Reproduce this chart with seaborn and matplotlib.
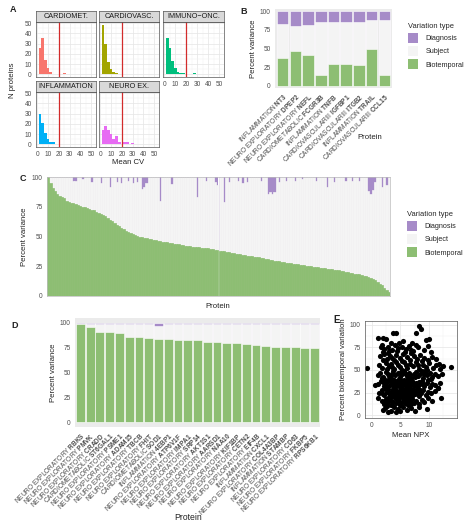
import numpy as np
import pandas as pd
import matplotlib
matplotlib.use("Agg")
import matplotlib.pyplot as plt
import seaborn as sns
from matplotlib.patches import Patch
from matplotlib.ticker import MultipleLocator

sns.set_theme(style="white")
plt.rcParams['font.family'] = ['Liberation Sans', 'DejaVu Sans']
plt.rcParams['mathtext.fontset'] = 'custom'
plt.rcParams['mathtext.rm'] = 'Liberation Sans'
plt.rcParams['mathtext.bf'] = 'Liberation Sans:bold'

# ---------------- DATA ----------------
# Panel A: histogram counts of mean CV per panel (bin centers, width 2.5)
cv_centers = [2.5, 5, 7.5, 10, 12.5, 15, 17.5, 20, 22.5, 25, 27.5, 30]
cv_panels = ["CARDIOMET.", "CARDIOVASC.", "IMMUNO\u2212ONC.", "INFLAMMATION", "NEURO EX."]
cv_cardiomet = [26, 35, 14, 6, 2, 0, 0, 0, 0, 1, 0, 0]
cv_cardiovasc = [48, 30, 12, 5, 2, 1, 0, 0, 0, 0, 0, 0]
cv_immuno = [35, 26, 13, 6, 2, 1, 1, 0, 0, 0, 1, 0]
cv_inflam = [30, 21, 11, 5, 2, 2, 0, 0, 0, 0, 0, 0]
cv_neuro = [14, 18, 14, 10, 5, 8, 2, 0, 2, 2, 0, 1]
cv_colors = ["#F8766D", "#A3A500", "#00BF7D", "#00B0F6", "#E76BF3"]

# Panel B
b_panel = ["INFLAMMATION", "NEURO EXPLORATORY", "NEURO EXPLORATORY", "CARDIOMETABOLIC",
           "INFLAMMATION", "CARDIOVASCULARIII", "CARDIOVASCULARIII", "INFLAMMATION",
           "CARDIOVASCULARIII"]
b_gene = ["NT3", "DPEP2", "NEFL", "FCGR3B", "TNFB", "IGFBP1", "ITGB2", "TRAIL", "CCL15"]
b_bio = [37, 46, 41, 14, 29, 29, 28, 50, 14]
b_diag = [17, 20, 18, 14, 14, 14, 14, 12, 12]

# Panel C (proteins sorted by biotemporal %)
c_bio = [100, 95, 91, 88, 86, 84, 83, 82, 80, 79,
         78.5, 78, 77, 76.5, 76, 75, 74.5, 74, 73, 72.5,
         72, 71, 70, 69, 68, 67, 65.5, 64, 63, 61.5,
         60, 59, 57.5, 56.5, 55, 54, 53, 52, 51, 50.5,
         50, 49.5, 49, 48.5, 48, 47.5, 47.2, 46.8, 46.5, 46,
         45.7, 45.3, 45, 44.6, 44.3, 44, 43.7, 43.4, 43, 42.7,
         42.4, 42, 41.8, 41.5, 41.2, 41, 40.8, 40.5, 40.3, 40.1,
         40, 39.7, 39.3, 39, 38.6, 38.2, 37.8, 37.4, 37, 36.6,
         36.2, 35.9, 35.5, 35.2, 34.9, 34.6, 34.3, 34, 33.7, 33.4,
         33.1, 32.8, 32.4, 32, 31.6, 31.2, 30.8, 30.4, 30, 29.6,
         29.3, 29, 28.7, 28.4, 28.1, 27.8, 27.5, 27.2, 27, 26.7,
         26.4, 26.1, 25.8, 25.5, 25.2, 25, 24.7, 24.4, 24.1, 23.8,
         23.5, 23.2, 23, 22.7, 22.4, 22.1, 21.8, 21.5, 21.2, 20.9,
         20.5, 20.1, 19.7, 19.3, 18.9, 18.5, 18.1, 17.6, 17.1, 16.6,
         16, 15.3, 14.5, 13.5, 12, 10.5, 9, 7, 5, 3]
c_diag_pos = [11, 12, 15, 19, 23, 27, 30, 32, 35, 37, 39, 41, 42, 43, 49, 54, 65, 69, 73, 74,
              77, 79, 83, 85, 87, 93, 96, 97, 98, 99, 101, 104, 108, 111, 117, 122, 125, 130,
              133, 136, 140, 141, 142, 143, 146, 148]
c_diag_val = [3, 3, 2, 4, 5, 8, 4, 5, 3, 5, 4, 10, 8, 5, 20, 6, 17, 3, 4, 7,
              21, 4, 3, 5, 4, 3, 14, 13, 14, 13, 4, 3, 3, 2, 3, 8, 4, 3,
              3, 3, 12, 14, 11, 4, 8, 7]

# Panel D
d_panel = ["NEURO EXPLORATORY", "NEURO EXPLORATORY", "NEURO EXPLORATORY", "CARDIOMETABOLIC",
           "NEURO EXPLORATORY", "NEURO EXPLORATORY", "NEURO EXPLORATORY", "NEURO EXPLORATORY",
           "CARDIOMETABOLIC", "INFLAMMATION", "NEURO EXPLORATORY", "NEURO EXPLORATORY",
           "NEURO EXPLORATORY", "NEURO EXPLORATORY", "NEURO EXPLORATORY", "NEURO EXPLORATORY",
           "NEURO EXPLORATORY", "NEURO EXPLORATORY", "NEURO EXPLORATORY", "INFLAMMATION",
           "NEURO EXPLORATORY", "INFLAMMATION", "NEURO EXPLORATORY", "NEURO EXPLORATORY",
           "NEURO EXPLORATORY"]
d_gene = ["RBKS", "PMVK", "CRADD", "ST6GAL1", "PSME1", "ADAM15", "TBCB", "FHIT", "SOD1",
          "4EBP1", "ATP6V1F", "IMPA1", "SRP14", "AKT1S1", "AARSD1", "NAA10", "KIF1BP",
          "CETN2", "EIF4B", "CXCL1", "COL4A3BP", "STAMBP", "CD63", "FKBP5", "RPS6KB1"]
d_bio = [99, 96, 91, 91, 90, 86, 86, 85, 84, 84, 83, 83, 83, 81, 81, 80, 80, 79, 78, 77,
         76, 76, 76, 75, 75]
d_diag = [1, 1, 1, 1, 1, 1, 1, 1, 3, 1, 1, 1, 1, 1, 1, 1, 1, 1, 1, 1, 1, 1, 1, 1, 1]

# Panel E: (mean NPX, percent biotemporal variation)
e_points = [
    (8.2, 99), (8.6, 96), (3.7, 91), (4.3, 91), (7.8, 91), (10.0, 84), (9.5, 83), (1.0, 85),
    (1.9, 85), (2.5, 84), (5.5, 82), (7.0, 80), (9.8, 77), (4.8, 80), (3.3, 80),
    (1.6, 75), (2.2, 73), (2.8, 76), (3.5, 72), (4.1, 78), (4.6, 74), (5.3, 76), (6.0, 73),
    (6.5, 77), (7.2, 71), (8.0, 75), (9.1, 72), (10.3, 70), (2.0, 70), (3.0, 71), (5.8, 70),
    (6.8, 72), (1.7, 78), (4.4, 71), (7.7, 78),
    (1.5, 65), (2.1, 68), (2.6, 62), (3.2, 66), (3.8, 61), (4.3, 67), (4.9, 63), (5.5, 68),
    (6.1, 64), (6.6, 61), (7.3, 66), (7.9, 62), (8.5, 67), (9.2, 63), (9.9, 61), (10.6, 64),
    (2.9, 69), (5.2, 60), (6.9, 69), (8.8, 60), (3.5, 63), (1.9, 61), (11.2, 62),
    (1.2, 55), (1.8, 52), (2.4, 58), (3.0, 54), (3.4, 57), (3.9, 51), (4.5, 56), (5.0, 53),
    (5.6, 59), (6.2, 52), (6.7, 57), (7.2, 54), (7.8, 59), (8.3, 51), (8.9, 56), (9.4, 53),
    (10.0, 58), (10.7, 52), (11.3, 56), (12.0, 51), (12.5, 54), (2.7, 51), (4.2, 59),
    (6.0, 55), (8.1, 55), (9.7, 50), (11.8, 57), (-0.8, 52), (13.9, 53), (3.6, 53), (5.3, 50),
    (1.0, 44), (1.5, 47), (2.0, 42), (2.5, 48), (2.9, 45), (3.3, 41), (3.7, 49), (4.1, 44),
    (4.5, 47), (4.9, 42), (5.3, 46), (5.7, 49), (6.1, 43), (6.5, 47), (6.9, 41), (7.3, 45),
    (7.7, 48), (8.1, 43), (8.5, 46), (8.9, 41), (9.3, 49), (9.7, 44), (10.1, 47), (10.6, 42),
    (11.0, 46), (11.6, 43), (12.3, 45), (2.2, 40), (3.0, 43), (4.7, 40), (5.9, 45), (6.3, 40),
    (7.5, 42), (8.7, 49), (10.4, 40), (1.7, 41), (3.5, 46), (5.1, 48), (6.7, 44), (9.1, 45),
    (1.1, 35), (1.6, 38), (2.1, 32), (2.4, 36), (2.8, 39), (3.1, 33), (3.4, 37), (3.8, 31),
    (4.1, 35), (4.4, 38), (4.7, 33), (5.0, 36), (5.3, 30), (5.6, 39), (5.9, 34), (6.2, 37),
    (6.5, 31), (6.8, 35), (7.1, 38), (7.4, 32), (7.7, 36), (8.0, 30), (8.4, 34), (8.8, 38),
    (9.2, 32), (9.6, 36), (10.1, 31), (10.5, 35), (11.0, 33), (11.5, 30), (12.0, 36),
    (0.6, 33), (2.0, 37), (3.6, 34), (4.9, 31), (5.4, 34), (6.0, 32), (6.6, 38), (7.2, 34),
    (8.2, 37), (9.0, 35), (9.9, 39), (2.6, 31), (4.3, 32), (5.7, 37), (7.9, 33), (3.9, 39),
    (6.4, 35), (4.6, 36), (5.2, 38),
    (1.3, 25), (1.8, 28), (2.2, 22), (2.6, 26), (2.9, 29), (3.2, 23), (3.5, 27), (3.8, 21),
    (4.0, 25), (4.3, 28), (4.6, 22), (4.8, 26), (5.1, 29), (5.3, 23), (5.6, 27), (5.8, 21),
    (6.1, 25), (6.3, 28), (6.6, 22), (6.9, 26), (7.2, 29), (7.5, 23), (7.8, 27), (8.2, 21),
    (8.6, 25), (9.0, 28), (9.4, 22), (9.9, 26), (10.4, 24), (11.0, 27), (11.5, 30),
    (1.9, 23), (3.0, 25), (3.7, 29), (4.4, 24), (5.0, 20), (5.5, 25), (6.0, 29), (6.4, 24),
    (7.0, 21), (7.3, 25), (8.0, 24), (8.4, 28), (4.1, 22), (5.8, 26), (6.7, 28), (2.4, 29),
    (3.4, 20), (5.2, 27), (6.2, 22),
    (1.1, 19), (1.7, 16), (2.1, 12), (2.5, 18), (2.8, 14), (3.1, 17), (3.4, 11), (3.7, 15),
    (4.0, 19), (4.3, 13), (4.6, 17), (4.9, 11), (5.2, 15), (5.5, 19), (5.8, 13), (6.1, 17),
    (6.4, 11), (6.7, 15), (7.0, 18), (7.4, 13), (7.8, 16), (8.2, 12), (8.7, 17), (9.2, 14),
    (9.8, 19), (10.5, 16), (12.1, 19), (3.0, 20), (4.5, 20), (5.7, 16), (6.9, 12), (2.3, 16),
    (4.8, 14), (6.3, 19),
    (1.9, 6), (2.3, 8), (2.9, 3), (3.4, 5), (3.9, 9), (4.5, 7), (5.0, 4), (5.4, 9), (6.1, 6),
    (6.9, 8), (7.6, 5), (9.6, 7), (2.6, 10), (4.2, 3), (8.3, 9),
]

# ---------------- STYLE ----------------
DIAG = "#A68BC8"
SUBJ = "#F4F4F4"
BIO = "#8DBE73"
TXT = "#222222"
TICKC = "#4D4D4D"
TS = 4.7   # tick label size
LS = 5.6   # axis label size

W, H = 474, 524
fig = plt.figure(figsize=(W / 100, H / 100), dpi=100)


def px_axes(x0, y0, x1, y1):
    return fig.add_axes([x0 / W, 1 - y1 / H, (x1 - x0) / W, (y1 - y0) / H])


def ftext(x, y, s, **kw):
    kw.setdefault("color", TXT)
    fig.text(x / W, 1 - y / H, s, **kw)


def tick_style(ax):
    ax.tick_params(axis="both", which="major", labelsize=TS, length=2, width=0.5,
                   color="#333333", labelcolor=TICKC, pad=1, direction="out")
    ax.tick_params(axis="both", which="minor", length=0)


def bw_frame(ax):
    for s in ax.spines.values():
        s.set_visible(True)
        s.set_color("#555555")
        s.set_linewidth(0.5)


# ---------------- PANEL A ----------------
cv_counts = [cv_cardiomet, cv_cardiovasc, cv_immuno, cv_inflam, cv_neuro]
edges = [c - 1.25 for c in cv_centers] + [cv_centers[-1] + 1.25]
col_x = [(36, 96), (99, 159), (163, 224)]
row_y = [(22, 77), (92, 147)]
strip_h = 11
for k, (name, counts, col) in enumerate(zip(cv_panels, cv_counts, cv_colors)):
    r, c = divmod(k, 3)
    x0, x1 = col_x[c]
    y0, y1 = row_y[r]
    ax = px_axes(x0, y0, x1, y1)
    hdf = pd.DataFrame({"cv": cv_centers, "n": counts})
    sns.histplot(data=hdf, x="cv", weights="n", bins=edges, color=col, alpha=1,
                 linewidth=0, ax=ax)
    ax.axvline(20, color="#D22B2B", lw=0.9)
    ax.set_xlim(-1.3, 54.6)
    ax.set_ylim(-2.5, 51)
    ax.set_facecolor("white")
    ax.xaxis.set_major_locator(MultipleLocator(10))
    ax.xaxis.set_minor_locator(MultipleLocator(5))
    ax.yaxis.set_major_locator(MultipleLocator(10))
    ax.yaxis.set_minor_locator(MultipleLocator(5))
    ax.grid(True, which="major", color="#E5E5E5", lw=0.5)
    ax.grid(True, which="minor", color="#F2F2F2", lw=0.35)
    ax.set_axisbelow(True)
    bw_frame(ax)
    tick_style(ax)
    ax.set_xlabel("")
    ax.set_ylabel("")
    if c != 0:
        ax.tick_params(axis="y", labelleft=False, length=0)
    if not (r == 1 or (r == 0 and c == 2)):
        ax.tick_params(axis="x", labelbottom=False, length=0)
    sax = px_axes(x0, y0 - strip_h, x1, y0)
    sax.set_facecolor("#D9D9D9")
    sax.set_xticks([])
    sax.set_yticks([])
    bw_frame(sax)
    sax.text(0.5, 0.5, name, ha="center", va="center", fontsize=5.2, color="#1A1A1A",
             transform=sax.transAxes)

ftext(13, 80, "N proteins", rotation=90, ha="center", va="center", fontsize=LS)
ftext(128, 162, "Mean CV", ha="center", va="center", fontsize=LS)
ftext(13, 10, "A", fontsize=6.5, fontweight="bold", ha="center", va="center")


# ---------------- stacked bars helper ----------------
def stacked(ax, labels, bio, diag, width, edge, lw):
    df = pd.DataFrame({"protein": labels, "bio": bio, "diag": diag})
    df["total"] = 100.0
    df["nondiag"] = 100.0 - df["diag"]
    for col, colr in (("total", DIAG), ("nondiag", SUBJ), ("bio", BIO)):
        if edge == "match":
            ec, w_ = colr, (0 if col == "total" else lw)
        else:
            ec, w_ = edge, lw
        sns.barplot(data=df, x="protein", y=col, color=colr, width=width, ax=ax,
                    saturation=1, edgecolor=ec, linewidth=w_, errorbar=None)
    ax.set_xlabel("")
    ax.set_ylabel("")


def legend_at(x, y):
    handles = [Patch(facecolor=DIAG, edgecolor="none"),
               Patch(facecolor=SUBJ, edgecolor="none"),
               Patch(facecolor=BIO, edgecolor="none")]
    fig.legend(handles, ["Diagnosis", "Subject", "Biotemporal"], title="Variation type",
               loc="upper left", bbox_to_anchor=(x / W, 1 - y / H), frameon=False,
               fontsize=5.2, title_fontsize=5.4, handlelength=1.5, handleheight=1.8,
               labelspacing=0.42, handletextpad=1.0, alignment="left", borderpad=0)


# ---------------- PANEL B ----------------
axB = px_axes(275, 9, 392, 88)
b_labels = [f"{p} $\\mathbf{{{g}}}$" for p, g in zip(b_panel, b_gene)]
stacked(axB, b_labels, b_bio, b_diag, 0.9, "white", 0.4)
axB.set_facecolor("#EBEBEB")
axB.set_ylim(-2.8, 102.8)
axB.set_xlim(-0.6, len(b_gene) - 0.4)
axB.set_yticks([0, 25, 50, 75, 100])
for s in axB.spines.values():
    s.set_visible(False)
tick_style(axB)
axB.set_xticks(range(len(b_labels)))
axB.set_xticklabels(b_labels, rotation=45, ha="right", rotation_mode="anchor", fontsize=TS)
axB.set_ylabel("Percent variance", fontsize=LS, color=TXT, labelpad=2)
ftext(370, 137, "Protein", ha="center", va="center", fontsize=LS)
ftext(244, 12, "B", fontsize=6.5, fontweight="bold", ha="center", va="center")
legend_at(404, 19)

# ---------------- PANEL C ----------------
axC = px_axes(47, 177, 390, 296)
c_diag = [0.0] * len(c_bio)
for p, v in zip(c_diag_pos, c_diag_val):
    c_diag[p] = v
c_labels = [f"P{i:03d}" for i in range(len(c_bio))]
stacked(axC, c_labels, c_bio, c_diag, 1.0, "match", 0.5)
axC.set_ylim(0, 100)
axC.set_xlim(-0.5, len(c_bio) - 0.5)
axC.set_yticks([0, 25, 50, 75, 100])
axC.set_xticks([])
bw_frame(axC)
for s in axC.spines.values():
    s.set_color("#BBBBBB")
tick_style(axC)
axC.set_ylabel("Percent variance", fontsize=LS, color=TXT, labelpad=3)
ftext(218, 306, "Protein", ha="center", va="center", fontsize=LS)
ftext(23, 178, "C", fontsize=6.5, fontweight="bold", ha="center", va="center")
legend_at(403, 207)

# ---------------- PANEL D ----------------
axD = px_axes(75, 318, 320, 427)
d_labels = [f"{p} $\\mathbf{{{g}}}$" for p, g in zip(d_panel, d_gene)]
stacked(axD, d_labels, d_bio, d_diag, 0.9, "white", 0.4)
axD.set_facecolor("#EBEBEB")
axD.set_ylim(-5, 105)
axD.set_xlim(-0.55, len(d_gene) - 0.45)
axD.set_yticks([0, 25, 50, 75, 100])
for s in axD.spines.values():
    s.set_visible(False)
tick_style(axD)
axD.set_xticks(range(len(d_labels)))
axD.set_xticklabels(d_labels, rotation=45, ha="right", rotation_mode="anchor", fontsize=TS)
axD.set_ylabel("Percent variance", fontsize=LS, color=TXT, labelpad=2)
ftext(188, 517, "Protein", ha="center", va="center", fontsize=6.2)
ftext(15, 325, "D", fontsize=6.5, fontweight="bold", ha="center", va="center")

# ---------------- PANEL E ----------------
axE = px_axes(365, 321, 457, 418)
e_df = pd.DataFrame(e_points, columns=["mean_npx", "pct_bio"])
sns.scatterplot(data=e_df, x="mean_npx", y="pct_bio", color="black", s=14, linewidth=0,
                ax=axE)
axE.set_xlim(-1.2, 14.9)
axE.set_ylim(-3.3, 104.4)
axE.set_facecolor("white")
axE.xaxis.set_major_locator(MultipleLocator(5))
axE.xaxis.set_minor_locator(MultipleLocator(2.5))
axE.set_yticks([0, 25, 50, 75, 100])
axE.yaxis.set_minor_locator(MultipleLocator(12.5))
axE.grid(True, which="major", color="#E5E5E5", lw=0.5)
axE.grid(True, which="minor", color="#F2F2F2", lw=0.35)
axE.set_axisbelow(True)
bw_frame(axE)
tick_style(axE)
axE.set_xlabel("Mean NPX", fontsize=LS, color=TXT, labelpad=2)
axE.set_ylabel("Percent biotemporal variation", fontsize=LS, color=TXT, labelpad=2)
ftext(337, 320, "E", fontsize=7, fontweight="bold", ha="center", va="center")

fig.savefig("out.png", dpi=100, facecolor="white")
